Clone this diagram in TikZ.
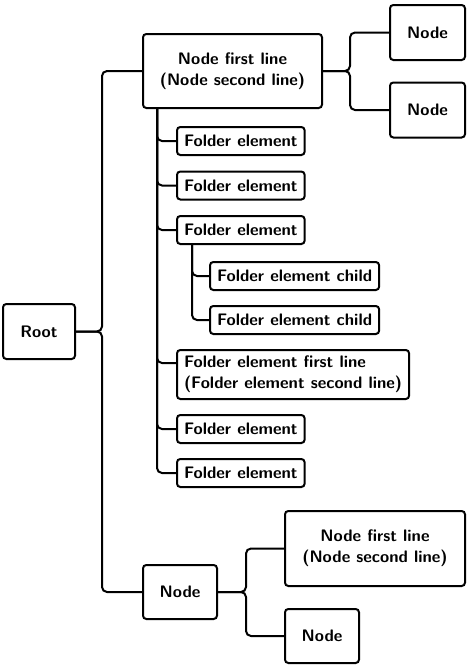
\documentclass[tikz,border=0pt]{standalone}
\usetikzlibrary{calc}
\begin{document}
\begin{tikzpicture}[x=0.6pt,y=-0.6pt,
  every node/.style={font=\sffamily\bfseries\fontsize{10}{12.6}\selectfont},
  box/.style={draw,line width=1.2pt,rounded corners=2pt,inner sep=0pt,align=center},
  fold/.style={draw,line width=1.2pt,rounded corners=2pt,inner xsep=4.2pt,inner ysep=0pt,minimum height=16.8pt,anchor=west,align=left},
  conn/.style={line width=1.2pt,rounded corners=3pt}]
\useasboundingbox (0,0) rectangle (474,672);
% main nodes
\node[box,minimum width=43.2pt,minimum height=33pt] (root) at (39,331.5) {Root};
\node[box,minimum width=107.4pt,minimum height=44.4pt] (top) at (232.5,71) {Node first line\\(Node second line)};
\node[box,minimum width=45pt,minimum height=33pt] (n1) at (427.5,32.5) {Node};
\node[box,minimum width=45pt,minimum height=33pt] (n2) at (427.5,110) {Node};
\node[box,minimum width=44.4pt,minimum height=32.4pt] (bot) at (180,592) {Node};
\node[box,minimum width=108pt,minimum height=45pt] (b1) at (375,548.5) {Node first line\\(Node second line)};
\node[box,minimum width=44.4pt,minimum height=32.4pt] (b2) at (322,636) {Node};
% folder elements
\node[fold] (fe1) at (176,141) {Folder element};
\node[fold] (fe2) at (176,185.5) {Folder element};
\node[fold] (fe3) at (176,230) {Folder element};
\node[fold] (c1) at (209,276) {Folder element child};
\node[fold] (c2) at (209,320) {Folder element child};
\node[fold,minimum height=29.4pt] (fe4) at (176,374.5) {Folder element first line\\(Folder element second line)};
\node[fold] (fe5) at (176,429) {Folder element};
\node[fold] (fe6) at (176,473) {Folder element};
% connectors
\draw[conn] (root.east) -- ++(26,0) |- (top.west);
\draw[conn] (root.east) -- ++(26,0) |- (bot.west);
\draw[conn] (top.east) -- ++(27,0) |- (n1.west);
\draw[conn] (top.east) -- ++(27,0) |- (n2.west);
\draw[conn] (bot.east) -- ++(28,0) |- (b1.west);
\draw[conn] (bot.east) -- ++(28,0) |- (b2.west);
\coordinate (fx) at ([xshift=9pt]top.south west);
\draw[conn] (fx) |- (fe1.west);
\draw[conn] (fx) |- (fe2.west);
\draw[conn] (fx) |- (fe3.west);
\draw[conn] (fx) |- ([yshift=-8.4pt]fe4.north west);
\draw[conn] (fx) |- (fe5.west);
\draw[conn] (fx) |- (fe6.west);
\coordinate (cx) at ([xshift=9.6pt]fe3.south west);
\draw[conn] (cx) |- (c1.west);
\draw[conn] (cx) |- (c2.west);
\end{tikzpicture}
\end{document}
